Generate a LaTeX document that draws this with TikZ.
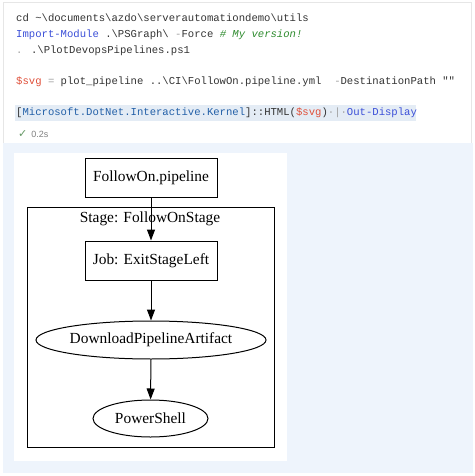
\documentclass[tikz,border=0pt]{standalone}
\usepackage{fontspec}
\setmainfont{Liberation Serif}
\newfontfamily\codefont{Liberation Mono}
\newfontfamily\symfont{DejaVu Sans}
\newfontfamily\uifont{Liberation Sans}
\usetikzlibrary{shapes.geometric,arrows.meta}
\definecolor{cellborder}{HTML}{E6E6E6}
\definecolor{outbg}{HTML}{EEF4FC}
\definecolor{selbg}{HTML}{E4ECF5}
\definecolor{kwblue}{HTML}{3B4FD8}
\definecolor{typeblue}{HTML}{2360A8}
\definecolor{varred}{HTML}{E0503A}
\definecolor{cmtgreen}{HTML}{2E8B2E}
\definecolor{opgray}{HTML}{A0A0A0}
\definecolor{txt}{HTML}{333333}
\definecolor{timegray}{HTML}{808080}
\begin{document}
\begin{tikzpicture}[x=1pt,y=-1pt,
  codeline/.style={anchor=base west,inner sep=0pt,font=\codefont\fontsize{10.6pt}{12pt}\selectfont,text=txt},
  gbox/.style={draw,line width=1pt,rectangle,inner sep=0pt,minimum width=132pt,minimum height=39pt,font=\fontsize{15.4pt}{18pt}\selectfont},
  gell/.style={draw,line width=1pt,ellipse,inner sep=0pt,font=\fontsize{15.4pt}{18pt}\selectfont},
  garrow/.style={line width=1pt,-{Triangle[length=11pt,width=8pt]}}]
\useasboundingbox (0,0) rectangle (474,476);
\fill[white] (0,0) rectangle (474,476);
% code cell
\draw[cellborder,line width=0.8pt] (3,2) rectangle (471,143);
\fill[selbg] (15,105) rectangle (416,121);
\node[codeline] (l1) at (16,22) {cd \textasciitilde\textbackslash documents\textbackslash azdo\textbackslash serverautomationdemo\textbackslash utils};
\node[codeline] (l2) at (16,38) {\textcolor{kwblue}{Import-Module} .\textbackslash PSGraph\textbackslash{} \textcolor{opgray}{-}Force \textcolor{cmtgreen}{\itshape\# My version!}};
\node[codeline] (l3) at (16,54) {\textcolor{opgray}{.} .\textbackslash PlotDevopsPipelines.ps1};
\node[codeline] (l5) at (16,85) {\textcolor{varred}{\$svg} \textcolor{opgray}{=} plot\_pipeline ..\textbackslash CI\textbackslash FollowOn.pipeline.yml\ \ \textcolor{opgray}{-}DestinationPath \symbol{34}\symbol{34}};
\node[codeline] (l6) at (16,116) {[\textcolor{typeblue}{Microsoft.DotNet.Interactive.Kernel}]::HTML(\textcolor{varred}{\$svg})\textcolor{opgray}{\textperiodcentered|\textperiodcentered}\textcolor{kwblue}{Out-Display}};
\node[anchor=base west,inner sep=0pt,text=timegray] (tm) at (18,137) {{\symfont\fontsize{11pt}{12pt}\selectfont\textcolor{gray!80!green}{✓}}\hspace{4pt}{\uifont\fontsize{9pt}{10pt}\selectfont 0.2s}};
% output area
\fill[outbg] (3,143) rectangle (473,473);
\fill[white] (14,153) rectangle (287,461);
% graph
\draw[line width=1pt] (27,207) rectangle (274,447);
\node[inner sep=0pt,font=\fontsize{15.4pt}{18pt}\selectfont] (stage) at (150,219) {Stage: FollowOnStage};
\node[gbox] (fo) at (151,177.5) {FollowOn.pipeline};
\node[gbox] (job) at (151,260.5) {Job: ExitStageLeft};
\node[gell,minimum width=230pt,minimum height=38pt] (dl) at (151,340) {DownloadPipelineArtifact};
\node[gell,minimum width=115pt,minimum height=37pt] (ps) at (150.5,418.5) {PowerShell};
\draw[garrow] (fo) -- (job);
\draw[garrow] (job) -- (dl);
\draw[garrow] (dl) -- (ps);
\end{tikzpicture}
\end{document}
